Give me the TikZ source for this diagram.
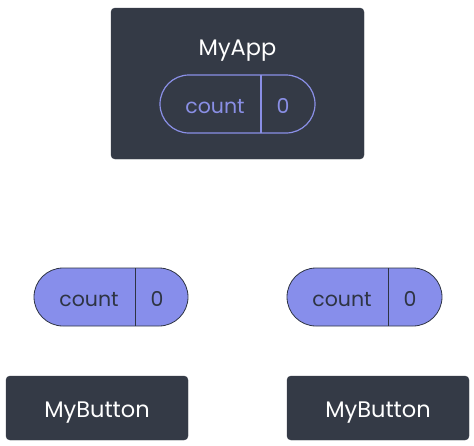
\documentclass[tikz,border=0pt]{standalone}
\usepackage{fontspec}
\setmainfont{Poppins}
\definecolor{darkbox}{HTML}{343A46}
\definecolor{pillfill}{HTML}{878EEB}
\definecolor{pilltop}{HTML}{8A8FE6}
\definecolor{pilldark}{HTML}{2E3443}
\begin{document}
\begin{tikzpicture}[x=1pt,y=-1pt,
  compbox/.style={fill=darkbox,draw=darkbox,rounded corners=4pt},
  pilltext/.style={font=\fontsize{20.5}{24}\selectfont,anchor=base,inner sep=0pt},
  boxtext/.style={font=\fontsize{22.5}{26}\selectfont,text=white,anchor=base,inner sep=0pt}]
\useasboundingbox (0,0) rectangle (474,445);
% MyApp
\path[compbox] (111,8) rectangle (364,159);
\node[boxtext] (app) at (237.5,55) {MyApp};
\draw[pilltop,line width=1.2pt,rounded corners=29pt] (160,75) rectangle (315,133);
\draw[pilltop,line width=1.2pt] (261,75) -- (261,133);
\node[pilltext,text=pilltop] (appcount) at (215,113) {count};
\node[pilltext,text=pilltop] (appzero) at (283,113) {0};
% left pill
\draw[fill=pillfill,draw=pilldark,line width=0.8pt,rounded corners=29pt] (34,268) rectangle (188,326);
\draw[pilldark,line width=0.8pt] (135,268) -- (135,326);
\node[pilltext,text=pilldark] (lcount) at (89,306) {count};
\node[pilltext,text=pilldark] (lzero) at (157,306) {0};
% right pill
\draw[fill=pillfill,draw=pilldark,line width=0.8pt,rounded corners=29pt] (287,268) rectangle (442,326);
\draw[pilldark,line width=0.8pt] (388,268) -- (388,326);
\node[pilltext,text=pilldark] (rcount) at (342,306) {count};
\node[pilltext,text=pilldark] (rzero) at (410,306) {0};
% buttons
\path[compbox] (6,376) rectangle (188,440);
\node[boxtext] (lbtn) at (97,417) {MyButton};
\path[compbox] (287,376) rectangle (469,440);
\node[boxtext] (rbtn) at (378,417) {MyButton};
\end{tikzpicture}
\end{document}
